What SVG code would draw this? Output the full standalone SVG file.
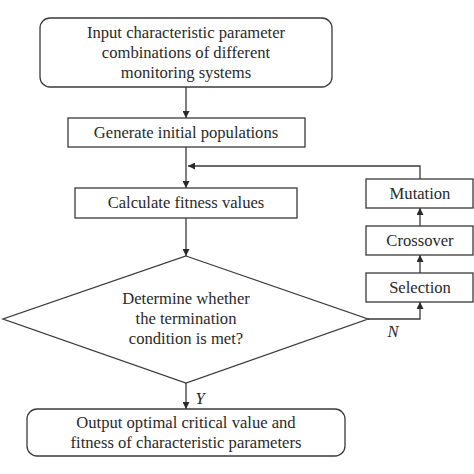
<svg xmlns="http://www.w3.org/2000/svg" width="474" height="474" viewBox="0 0 474 474">
<style>
.box{fill:#fff;stroke:#3a3a3a;stroke-width:1.3}
.ln{fill:none;stroke:#3a3a3a;stroke-width:1.3}
text{font-family:"Liberation Serif","Times New Roman",serif;font-size:16.6px;fill:#2a2a2a;text-anchor:middle}
.it{font-style:italic}
</style>
<defs>
<marker id="ah" viewBox="0 0 10 10" refX="10" refY="5" markerWidth="7" markerHeight="7" orient="auto" markerUnits="userSpaceOnUse">
<path d="M0,0 L10,5 L0,10 Z" fill="#2a2a2a"/>
</marker>
</defs>
<rect width="474" height="474" fill="#fff"/>
<g id="connectors">
<line class="ln" x1="186" y1="87" x2="186" y2="118" marker-end="url(#ah)"/>
<line class="ln" x1="186" y1="147" x2="186" y2="188" marker-end="url(#ah)"/>
<polyline class="ln" points="420,179 420,166 188,166" marker-end="url(#ah)"/>
<line class="ln" x1="186" y1="218" x2="186" y2="256" marker-end="url(#ah)"/>
<polyline class="ln" points="368,319 420,319 420,302" marker-end="url(#ah)"/>
<line class="ln" x1="420" y1="273" x2="420" y2="255" marker-end="url(#ah)"/>
<line class="ln" x1="420" y1="226" x2="420" y2="208" marker-end="url(#ah)"/>
<line class="ln" x1="186" y1="383" x2="186" y2="409" marker-end="url(#ah)"/>
<text class="it" x="393" y="337">N</text>
<text class="it" x="200" y="404">Y</text>
</g>
<g id="input">
<rect class="box" x="40" y="18" width="292" height="69" rx="10"/>
<text x="186" y="38">Input characteristic parameter</text>
<text x="186" y="58">combinations of different</text>
<text x="186" y="78">monitoring systems</text>
</g>
<g id="generate">
<rect class="box" x="68" y="118" width="237" height="29"/>
<text x="186" y="138">Generate initial populations</text>
</g>
<g id="calculate">
<rect class="box" x="75" y="188" width="222" height="30"/>
<text x="186" y="208">Calculate fitness values</text>
</g>
<g id="decision">
<polygon class="box" points="186,256 368,319 186,383 3,319"/>
<text x="186" y="304">Determine whether</text>
<text x="186" y="324">the termination</text>
<text x="186" y="344">condition is met?</text>
</g>
<g id="mutation">
<rect class="box" x="366" y="179" width="107" height="29"/>
<text x="420" y="199">Mutation</text>
</g>
<g id="crossover">
<rect class="box" x="366" y="226" width="107" height="29"/>
<text x="420" y="246">Crossover</text>
</g>
<g id="selection">
<rect class="box" x="366" y="273" width="107" height="29"/>
<text x="420" y="293">Selection</text>
</g>
<g id="output">
<rect class="box" x="27" y="409" width="318" height="47" rx="10"/>
<text x="186" y="428">Output optimal critical value and</text>
<text x="186" y="448">fitness of characteristic parameters</text>
</g>
</svg>
